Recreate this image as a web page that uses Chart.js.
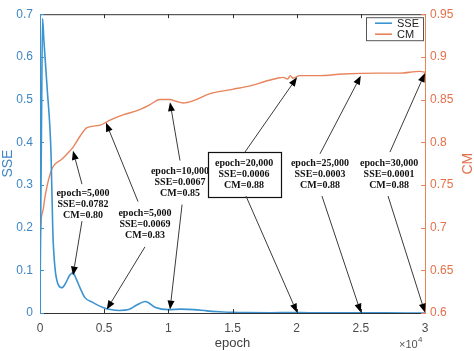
<!DOCTYPE html>
<html>
<head>
<meta charset="utf-8">
<script src="https://cdn.jsdelivr.net/npm/chart.js@4.4.1/dist/chart.umd.min.js"></script>
<style>
  html, body { margin: 0; padding: 0; background: #fff; }
</style>
</head>
<body>
<canvas id="chart" width="474" height="351"></canvas>
<script>
// epoch in units of 1e4
const sseEpoch = [0, 0.012, 0.02, 0.03, 0.055, 0.086, 0.1, 0.117, 0.14, 0.17,
  0.2, 0.23, 0.257, 0.285, 0.312, 0.35, 0.41, 0.49, 0.55, 0.62,
  0.69, 0.75, 0.82, 0.9, 1.0, 1.1, 1.2, 1.3, 1.4, 1.5,
  1.6, 1.8, 1.95, 2.1, 2.4, 2.7, 3.0];
const sseValues = [0.02, 0.45, 0.69, 0.64, 0.53, 0.373, 0.19, 0.105, 0.068, 0.059,
  0.07, 0.088, 0.094, 0.078, 0.059, 0.036, 0.025, 0.013, 0.008, 0.006,
  0.008, 0.018, 0.027, 0.013, 0.008, 0.009, 0.008, 0.005, 0.003, 0.0015,
  0.0008, 0.0006, 0.0012, 0.0004, 0.0003, 0.0002, 0.0001];

const cmEpoch = [0, 0.003, 0.02, 0.04, 0.07, 0.1, 0.17, 0.234, 0.257, 0.312,
  0.366, 0.468, 0.546, 0.647, 0.756, 0.857, 0.935, 1.013, 1.06, 1.115,
  1.2, 1.325, 1.5, 1.637, 1.77, 1.85, 1.894, 1.93, 1.95, 1.97,
  2.026, 2.18, 2.36, 2.63, 2.8, 2.96, 3.0];
const cmValues = [0.6, 0.69, 0.718, 0.737, 0.758, 0.771, 0.78, 0.79, 0.794, 0.807,
  0.817, 0.82, 0.826, 0.832, 0.837, 0.844, 0.85, 0.85, 0.848, 0.846,
  0.849, 0.857, 0.862, 0.866, 0.872, 0.875, 0.876, 0.874, 0.878, 0.875,
  0.878, 0.878, 0.88, 0.881, 0.881, 0.883, 0.882];

const xTicks = [0, 0.5, 1, 1.5, 2, 2.5, 3];
const sseTicks = [0, 0.1, 0.2, 0.3, 0.4, 0.5, 0.6, 0.7];
const cmTicks = [0.6, 0.65, 0.7, 0.75, 0.8, 0.85, 0.9, 0.95];

const noteLines = [
  ["epoch=5,000", "SSE=0.0782", "CM=0.80"],
  ["epoch=5,000", "SSE=0.0069", "CM=0.83"],
  ["epoch=10,000", "SSE=0.0067", "CM=0.85"],
  ["epoch=20,000", "SSE=0.0006", "CM=0.88"],
  ["epoch=25,000", "SSE=0.0003", "CM=0.88"],
  ["epoch=30,000", "SSE=0.0001", "CM=0.88"]
];
// text anchor (epoch, SSE axis value of first line)
const noteAt = [[0.335, 0.279], [0.818, 0.233], [1.091, 0.332], [1.59, 0.35], [2.182, 0.35], [2.72, 0.35]];
const noteBoxed = [false, false, false, true, false, false];
// arrows: tails in SSE-axis units, heads on the CM curve / SSE curve
const cmArrowTail = [[0.327, 0.302], [0.764, 0.261], [1.091, 0.357], [1.597, 0.377], [2.182, 0.373], [2.727, 0.377]];
const cmArrowHead = [[0.257, 0.79], [0.514, 0.823], [1.013, 0.847], [2.003, 0.876], [2.5, 0.878], [3.0, 0.881]];
const sseArrowTail = [[0.327, 0.215], [0.818, 0.155], [1.107, 0.254], [1.605, 0.274], [2.197, 0.274], [2.712, 0.274]];
const sseArrowHead = [[0.257, 0.088], [0.52, 0.008], [1.013, 0.008], [2.003, 0.001], [2.5, 0.001], [3.0, 0.001]];

const BLUE = "#3b93d0";
const BLUE_TXT = "#3f86c4";
const ORANGE = "#e8835c";
const ORANGE_TXT = "#e3704b";
const SANS = "'Liberation Sans', Arial, sans-serif";
const SERIF = "'Liberation Serif', 'Times New Roman', serif";

const fmt = v => String(+Number(v).toFixed(2));

function drawArrow(ctx, x0, y0, x1, y1) {
  const ang = Math.atan2(y1 - y0, x1 - x0);
  const len = 9, half = 3.5;
  const bx = x1 - len * Math.cos(ang), by = y1 - len * Math.sin(ang);
  ctx.strokeStyle = "#3a3a3a";
  ctx.lineWidth = 1;
  ctx.beginPath();
  ctx.moveTo(x0, y0);
  ctx.lineTo(bx, by);
  ctx.stroke();
  ctx.fillStyle = "#000";
  ctx.beginPath();
  ctx.moveTo(x1, y1);
  ctx.lineTo(bx + half * Math.sin(ang), by - half * Math.cos(ang));
  ctx.lineTo(bx - half * Math.sin(ang), by + half * Math.cos(ang));
  ctx.closePath();
  ctx.fill();
}

const overlay = {
  id: "overlay",
  afterDatasetsDraw(chart) {
    const { ctx, chartArea: a, scales } = chart;
    const x = scales.x, y = scales.y, y1 = scales.y1;
    ctx.save();

    // box
    ctx.lineWidth = 1;
    ctx.strokeStyle = "#333";
    ctx.beginPath();
    ctx.moveTo(a.left, a.top + 0.5); ctx.lineTo(a.right, a.top + 0.5);
    ctx.moveTo(a.left, a.bottom + 0.5); ctx.lineTo(a.right, a.bottom + 0.5);
    xTicks.forEach(v => {
      const px = Math.round(x.getPixelForValue(v)) + 0.5;
      ctx.moveTo(px, a.bottom); ctx.lineTo(px, a.bottom - 4);
      ctx.moveTo(px, a.top); ctx.lineTo(px, a.top + 4);
    });
    ctx.stroke();

    ctx.strokeStyle = BLUE;
    ctx.beginPath();
    ctx.moveTo(a.left + 0.5, a.top); ctx.lineTo(a.left + 0.5, a.bottom + 1);
    sseTicks.forEach(v => {
      const py = Math.round(y.getPixelForValue(v)) + 0.5;
      ctx.moveTo(a.left, py); ctx.lineTo(a.left + 4, py);
    });
    ctx.stroke();

    ctx.strokeStyle = ORANGE;
    ctx.beginPath();
    ctx.moveTo(a.right + 0.5, a.top); ctx.lineTo(a.right + 0.5, a.bottom + 1);
    cmTicks.forEach(v => {
      const py = Math.round(y1.getPixelForValue(v)) + 0.5;
      ctx.moveTo(a.right, py); ctx.lineTo(a.right - 4, py);
    });
    ctx.stroke();

    // annotations
    ctx.font = "bold 10px " + SERIF;
    ctx.textAlign = "center";
    ctx.textBaseline = "middle";
    noteLines.forEach((lines, i) => {
      const cx = x.getPixelForValue(noteAt[i][0]);
      const ty = y.getPixelForValue(noteAt[i][1]);
      ctx.fillStyle = "#111";
      lines.forEach((t, k) => ctx.fillText(t, cx, ty + k * 11));
      if (noteBoxed[i]) {
        ctx.strokeStyle = "#111";
        ctx.lineWidth = 1.2;
        ctx.strokeRect(Math.round(cx - 36.5) + 0.5, Math.round(ty - 12) + 0.5, 73, 45);
      }
      drawArrow(ctx,
        x.getPixelForValue(cmArrowTail[i][0]), y.getPixelForValue(cmArrowTail[i][1]),
        x.getPixelForValue(cmArrowHead[i][0]), y1.getPixelForValue(cmArrowHead[i][1]));
      drawArrow(ctx,
        x.getPixelForValue(sseArrowTail[i][0]), y.getPixelForValue(sseArrowTail[i][1]),
        x.getPixelForValue(sseArrowHead[i][0]), y.getPixelForValue(sseArrowHead[i][1]));
    });

    // legend
    const lw = 57, lh = 23;
    const lx = a.right - 2 - lw, ly = a.top + 3;
    ctx.fillStyle = "#fff";
    ctx.fillRect(lx, ly, lw, lh);
    ctx.strokeStyle = "#555";
    ctx.lineWidth = 1;
    ctx.strokeRect(lx + 0.5, ly + 0.5, lw, lh);
    ctx.font = "11px " + SANS;
    ctx.textAlign = "left";
    chart.data.datasets.forEach((ds, i) => {
      const ry = ly + 6 + i * 11;
      ctx.strokeStyle = ds.borderColor;
      ctx.lineWidth = 1.6;
      ctx.beginPath();
      ctx.moveTo(lx + 9, ry); ctx.lineTo(lx + 26, ry);
      ctx.stroke();
      ctx.fillStyle = "#222";
      ctx.fillText(ds.label, lx + 31, ry + 0.5);
    });

    // right axis title, reads bottom to top
    ctx.save();
    ctx.translate(468, (a.top + a.bottom) / 2);
    ctx.rotate(-Math.PI / 2);
    ctx.font = "14px " + SANS;
    ctx.fillStyle = ORANGE_TXT;
    ctx.textAlign = "center";
    ctx.fillText("CM", 0, 0);
    ctx.restore();

    // exponent
    ctx.fillStyle = "#555";
    ctx.textAlign = "left";
    ctx.font = "11px " + SANS;
    ctx.fillText("×10", 399, 345);
    ctx.font = "8px " + SANS;
    ctx.fillText("4", 418, 340);

    ctx.restore();
  }
};

new Chart(document.getElementById("chart"), {
  type: "line",
  data: {
    datasets: [
      {
        label: "SSE",
        data: sseEpoch.map((e, i) => ({ x: e, y: sseValues[i] })),
        borderColor: BLUE,
        borderWidth: 1.6,
        pointRadius: 0,
        cubicInterpolationMode: "monotone",
        yAxisID: "y"
      },
      {
        label: "CM",
        data: cmEpoch.map((e, i) => ({ x: e, y: cmValues[i] })),
        borderColor: ORANGE,
        borderWidth: 1.4,
        pointRadius: 0,
        cubicInterpolationMode: "monotone",
        yAxisID: "y1"
      }
    ]
  },
  options: {
    responsive: false,
    animation: false,
    devicePixelRatio: 1,
    layout: { padding: { top: 7, left: 0, right: 0, bottom: 0 } },
    plugins: {
      legend: { display: false },
      tooltip: { enabled: false }
    },
    scales: {
      x: {
        type: "linear",
        min: 0,
        max: 3,
        afterBuildTicks: s => { s.ticks = xTicks.map(v => ({ value: v })); },
        afterFit: s => { s.height = 38; },
        grid: { display: false, drawTicks: false },
        border: { display: false },
        ticks: {
          color: "#4d4d4d",
          font: { family: SANS, size: 12 },
          padding: 8,
          maxRotation: 0,
          autoSkip: false,
          callback: fmt
        },
        title: {
          display: true,
          text: "epoch",
          color: "#404040",
          font: { family: SANS, size: 13 },
          padding: 0
        }
      },
      y: {
        position: "left",
        min: 0,
        max: 0.7,
        afterBuildTicks: s => { s.ticks = sseTicks.map(v => ({ value: v })); },
        afterFit: s => { s.width = 40; },
        grid: { display: false, drawTicks: false },
        border: { display: false },
        ticks: {
          color: BLUE_TXT,
          font: { family: SANS, size: 12 },
          padding: 7,
          autoSkip: false,
          callback: fmt
        },
        title: {
          display: true,
          text: "SSE",
          color: BLUE_TXT,
          font: { family: SANS, size: 14 },
          padding: 0
        }
      },
      y1: {
        position: "right",
        min: 0.6,
        max: 0.95,
        afterBuildTicks: s => { s.ticks = cmTicks.map(v => ({ value: v })); },
        afterFit: s => { s.width = 49; },
        grid: { display: false, drawTicks: false },
        border: { display: false },
        ticks: {
          color: ORANGE_TXT,
          font: { family: SANS, size: 12 },
          padding: 5,
          autoSkip: false,
          callback: fmt
        }
      }
    }
  },
  plugins: [overlay]
});
</script>
</body>
</html>
